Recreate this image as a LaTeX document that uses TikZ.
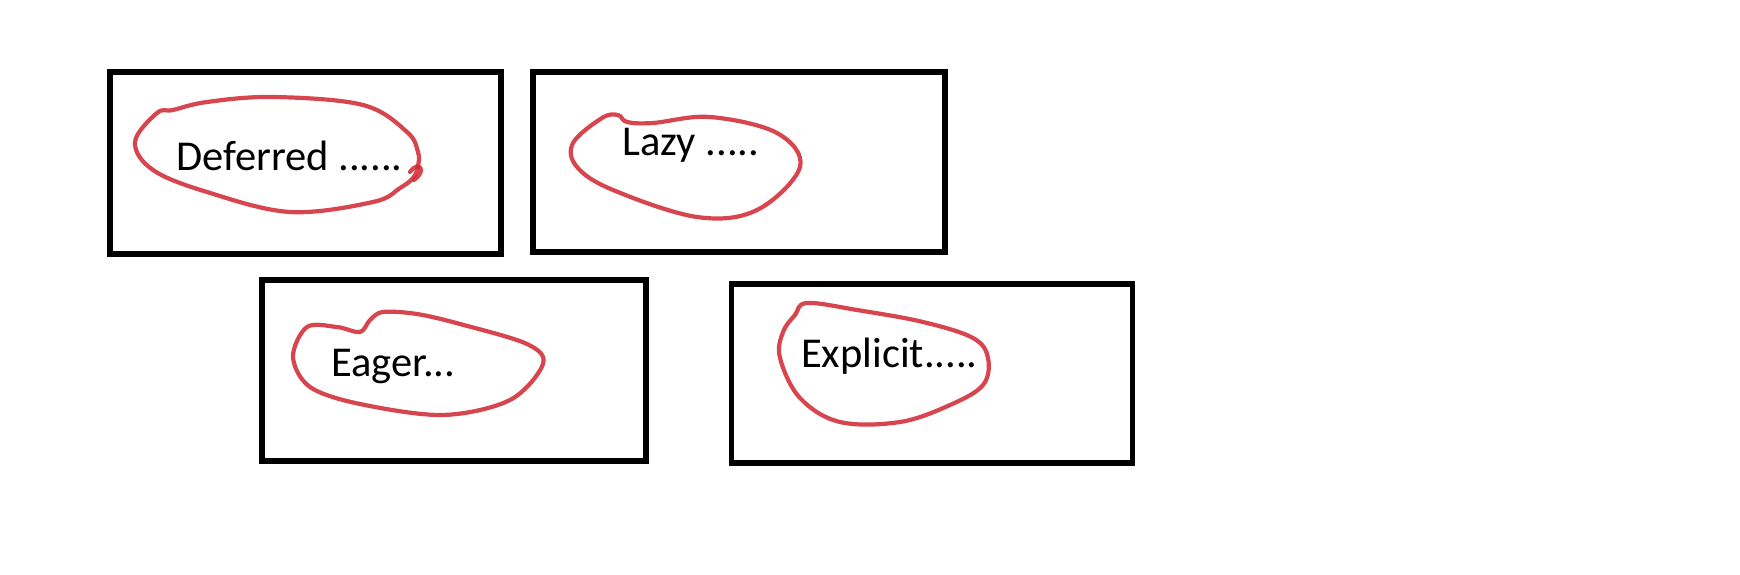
\documentclass[tikz,border=0pt]{standalone}
\usepackage{fontspec}
\setmainfont{Carlito}
\begin{document}
\begin{tikzpicture}[x=1pt,y=-1pt,
  box/.style={draw=black,line width=5.5pt,rectangle,inner sep=0pt,outer sep=0pt},
  lbl/.style={inner sep=0pt,anchor=base west,font=\fontsize{42.5}{50}\selectfont},
  scribble/.style={draw={rgb,255:red,208;green,38;blue,48},line width=4.2pt,opacity=0.85,line cap=round,line join=round}]
\useasboundingbox[fill=white] (0,0) rectangle (1740,575);
% boxes
\node[box,minimum width=391pt,minimum height=182pt] (b1) at (305.5,163) {};
\node[box,minimum width=412pt,minimum height=180pt] (b2) at (739,162) {};
\node[box,minimum width=384pt,minimum height=181pt] (b3) at (454,370.5) {};
\node[box,minimum width=401pt,minimum height=179pt] (b4) at (932,373.5) {};
% red scribbles
\draw[scribble] plot[smooth cycle,tension=0.6] coordinates {(157,113) (135,142) (153,170) (207,192) (290,212) (373,202) (400,188) (413,178) (418,166) (418,152) (407,132) (363,105) (273,97) (207,102) (173,110)};
\draw[scribble] (410,172) .. controls (418,160) and (428,170) .. (414,180);
\draw[scribble] plot[smooth cycle,tension=0.6] coordinates {(618,115) (602,118) (573,143) (577,167) (613,190) (697,217) (757,210) (800,167) (777,133) (710,117) (653,123) (627,122)};
\draw[scribble] plot[smooth cycle,tension=0.55] coordinates {(383,312) (370,320) (360,332) (337,327) (307,327) (293,357) (310,387) (360,404) (443,415) (510,400) (543,364) (527,344) (460,324) (417,314)};
\draw[scribble] plot[smooth cycle,tension=0.6] coordinates {(795,315) (807,303) (857,310) (923,322) (973,338) (988,358) (983,385) (950,405) (900,422) (840,422) (800,398) (780,358) (783,332)};
% texts
\node[lbl] (t1) at (176,170) {Deferred ......};
\node[lbl] (t2) at (622,155) {Lazy .....};
\node[lbl] (t3) at (331,376) {Eager...};
\node[lbl] (t4) at (801,367) {Explicit.....};
\end{tikzpicture}
\end{document}
